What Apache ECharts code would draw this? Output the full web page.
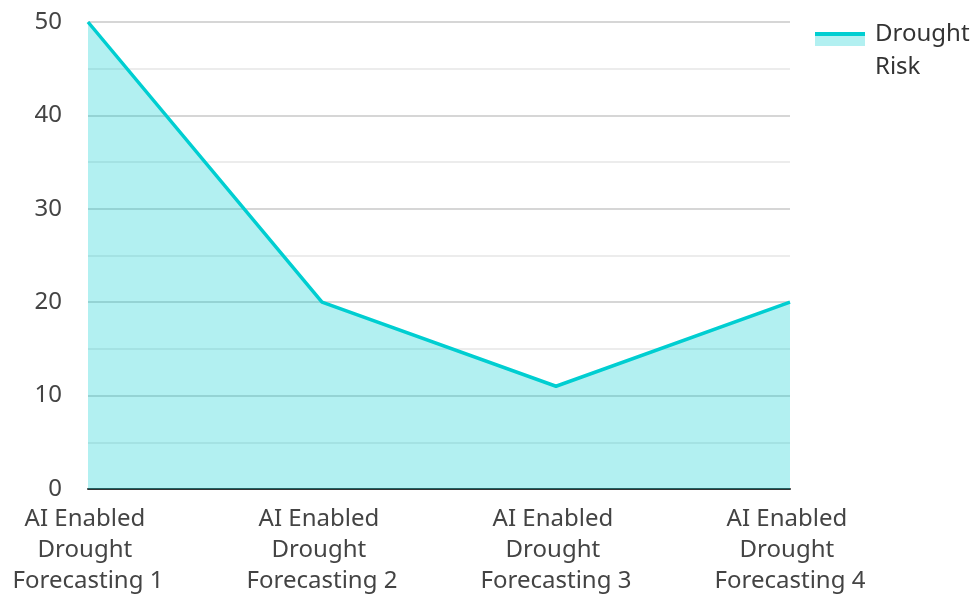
<!DOCTYPE html>
<html>
<head>
<meta charset="utf-8">
<script src="https://cdn.jsdelivr.net/npm/echarts@6/dist/echarts.min.js"></script>
<style>
  html, body { margin: 0; padding: 0; background: #fff; }
  #chart { width: 976px; height: 594px; }
</style>
</head>
<body>
<div id="chart"></div>
<script>
// Forecast stages and the drought risk score at each
const categories = [
  'AI Enabled Drought Forecasting 1',
  'AI Enabled Drought Forecasting 2',
  'AI Enabled Drought Forecasting 3',
  'AI Enabled Drought Forecasting 4'
];
const droughtRisk = [50, 20, 11, 20];
const seriesName = 'Drought Risk';

const chart = echarts.init(document.getElementById('chart'));
const font = '"Noto Sans", sans-serif';
const accent = '#00CED1';
const areaTint = '#b2f0f1';

// Legend swatch: solid line strip on top of the area tint
const legendSwatch = new echarts.graphic.LinearGradient(0, 0, 0, 1, [
  { offset: 0, color: accent },
  { offset: 0.28, color: accent },
  { offset: 0.28, color: areaTint },
  { offset: 1, color: areaTint }
]);

chart.setOption({
  animation: false,
  textStyle: { fontFamily: font },
  legend: {
    data: [{ name: seriesName, icon: 'rect', itemStyle: { color: legendSwatch, borderWidth: 0 } }],
    left: 815,
    top: 0,
    padding: 0,
    orient: 'vertical',
    itemWidth: 50,
    itemHeight: 14,
    // one word per line, with a spacer line so the swatch sits by the first word
    formatter: name => '{s| }\n' + name.split(' ').map(w => '{a|' + w + '}').join('\n'),
    textStyle: {
      fontFamily: font,
      fontSize: 24,
      color: '#333',
      align: 'left',
      padding: [0, 0, 0, 5],
      rich: {
        s: { fontSize: 12, lineHeight: 23 },
        a: { fontFamily: font, fontSize: 24, color: '#333', lineHeight: 33, align: 'left' }
      }
    }
  },
  grid: { left: 88, right: 186, top: 22, bottom: 105, outerBoundsMode: 'none', containLabel: false },
  xAxis: {
    type: 'category',
    data: categories,
    boundaryGap: false,
    axisLine: { lineStyle: { color: '#333', width: 2 } },
    axisTick: { show: false },
    axisLabel: {
      fontFamily: font,
      fontSize: 24,
      color: '#444',
      width: 180,
      overflow: 'break',
      lineHeight: 31,
      margin: 15,
      interval: 0
    },
    splitLine: { show: false }
  },
  yAxis: {
    type: 'value',
    min: 0,
    max: 50,
    interval: 10,
    axisLine: { show: false },
    axisTick: { show: false },
    axisLabel: {
      fontFamily: font,
      fontSize: 24,
      color: '#444',
      margin: 26
    },
    splitLine: { show: true, lineStyle: { color: '#c8c8c8', width: 1.5 } },
    minorTick: { show: false, splitNumber: 2 },
    minorSplitLine: { show: true, lineStyle: { color: '#e6e6e6', width: 1.5 } }
  },
  series: [{
    name: seriesName,
    type: 'line',
    data: droughtRisk,
    showSymbol: false,
    symbol: 'none',
    lineStyle: { color: accent, width: 3.5 },
    itemStyle: { color: accent },
    areaStyle: { color: accent, opacity: 0.3 }
  }]
});
</script>
</body>
</html>
